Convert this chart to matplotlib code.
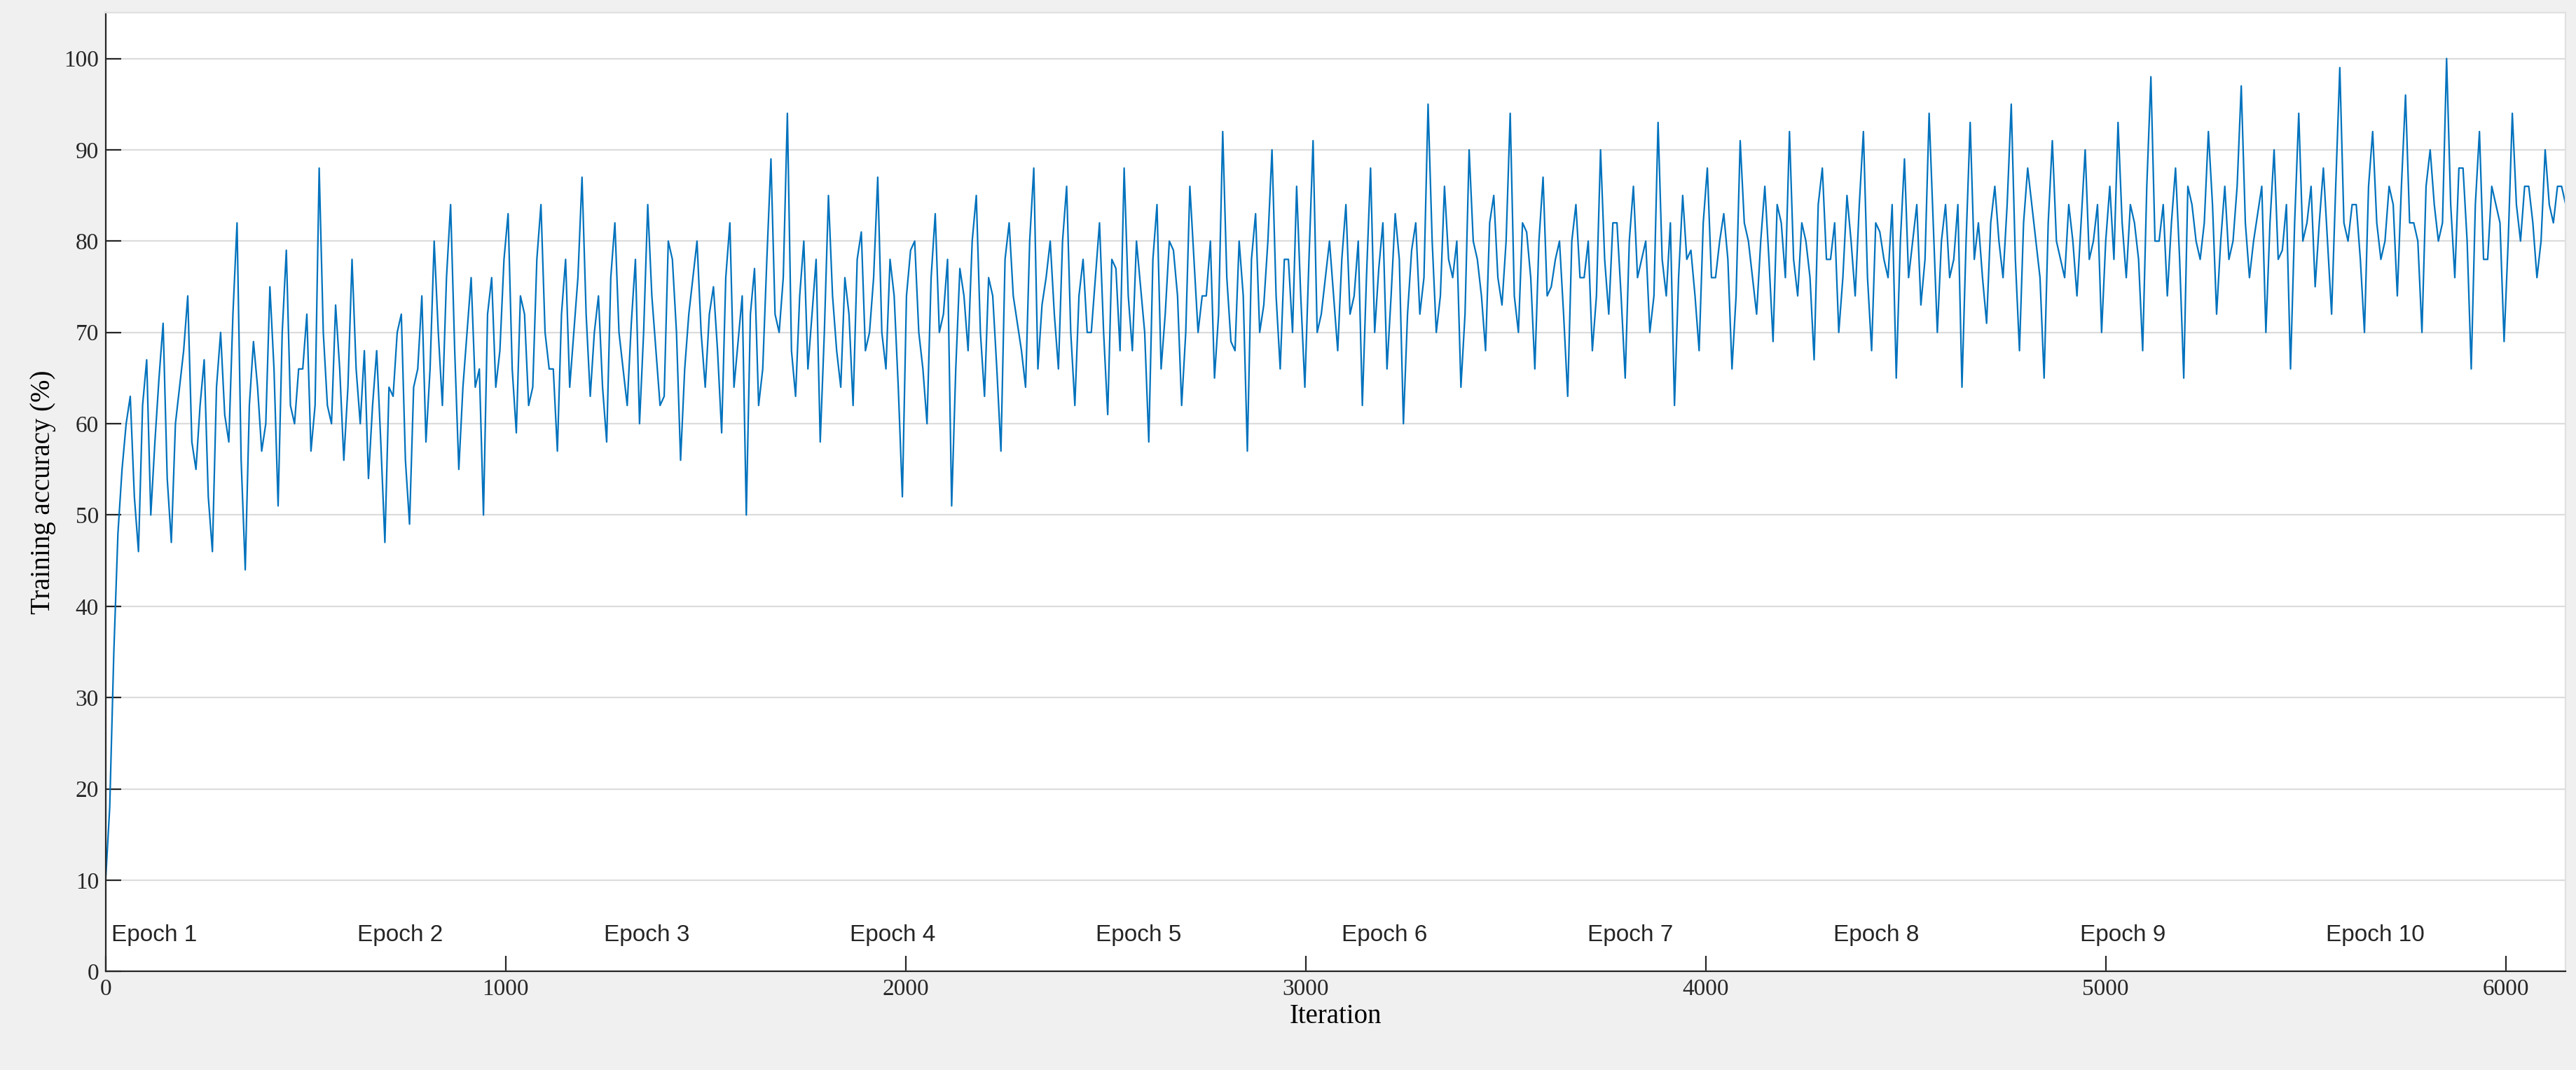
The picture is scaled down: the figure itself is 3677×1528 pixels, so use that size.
import numpy as np
import matplotlib
matplotlib.use("Agg")
from matplotlib import pyplot

# training accuracy (%); two interleaved passes of readings
acc_a = [
    10, 35, 55, 63, 46, 67, 58, 71, 47, 64, 74, 55, 67, 46, 70, 58, 82, 44, 69, 57, 75, 51, 79, 60, 66, 57, 88, 62, 73, 56,
    78, 60, 54, 68, 47, 63, 72, 49, 66, 58, 80, 62, 84, 55, 70, 64, 50, 76, 68, 83, 59, 72, 64, 84, 66, 57, 78, 70, 87, 63,
    74, 58, 82, 66, 71, 60, 84, 68, 63, 78, 56, 72, 80, 64, 75, 59, 82, 69, 50, 77, 66, 89, 70, 94, 63, 80, 72, 58, 85, 68,
    76, 62, 81, 70, 87, 66, 74, 52, 79, 70, 60, 83, 72, 51, 77, 68, 85, 63, 74, 57, 82, 71, 64, 88, 73, 80, 66, 86, 62, 78,
    70, 82, 61, 77, 88, 68, 75, 58, 84, 72, 79, 62, 86, 70, 74, 65, 92, 69, 80, 57, 83, 73, 90, 66, 78, 86, 64, 91, 72, 80,
    68, 84, 74, 62, 88, 77, 66, 83, 60, 79, 72, 95, 70, 86, 76, 64, 90, 78, 68, 85, 73, 94, 70, 81, 66, 87, 75, 80, 63, 84,
    76, 68, 90, 72, 82, 65, 86, 78, 70, 93, 74, 62, 85, 79, 68, 88, 76, 83, 66, 91, 80, 72, 86, 69, 82, 92, 74, 80, 67, 88,
    78, 70, 85, 74, 92, 68, 81, 76, 65, 89, 80, 73, 94, 70, 84, 78, 64, 93, 82, 71, 86, 76, 95, 68, 88, 80, 65, 91, 78, 84,
    74, 90, 80, 70, 86, 93, 76, 82, 68, 98, 80, 74, 88, 65, 84, 78, 92, 72, 86, 80, 97, 76, 83, 70, 90, 79, 66, 94, 82, 75,
    88, 72, 99, 80, 84, 70, 92, 78, 86, 74, 96, 82, 70, 90, 80, 100, 76, 88, 66, 92, 78, 84, 69, 94, 80, 86, 76, 90, 82, 86,
]
acc_b = [
    18, 48, 60, 52, 62, 50, 65, 54, 60, 68, 58, 62, 52, 64, 61, 72, 56, 62, 64, 60, 66, 70, 62, 66, 72, 62, 70, 60, 66, 64,
    66, 68, 62, 58, 64, 70, 56, 64, 74, 66, 70, 76, 68, 64, 76, 66, 72, 64, 78, 66, 74, 62, 78, 70, 66, 72, 64, 76, 72, 70,
    64, 76, 70, 62, 78, 70, 74, 62, 80, 70, 66, 76, 70, 72, 68, 76, 64, 74, 72, 62, 78, 72, 76, 68, 74, 66, 78, 70, 74, 64,
    72, 78, 68, 76, 70, 78, 64, 74, 80, 66, 76, 70, 78, 66, 74, 80, 70, 76, 66, 78, 74, 68, 80, 66, 76, 72, 80, 70, 74, 70,
    76, 70, 78, 68, 74, 80, 70, 78, 66, 80, 74, 70, 78, 74, 80, 72, 76, 68, 74, 78, 70, 80, 74, 78, 70, 74, 78, 70, 76, 74,
    78, 72, 80, 76, 70, 82, 74, 78, 72, 82, 76, 80, 74, 78, 80, 72, 80, 74, 82, 76, 80, 74, 82, 76, 80, 74, 78, 72, 80, 76,
    80, 74, 78, 82, 74, 80, 76, 80, 74, 78, 82, 76, 78, 74, 82, 76, 80, 78, 74, 82, 76, 80, 78, 84, 76, 78, 82, 76, 84, 78,
    82, 76, 80, 84, 76, 82, 78, 84, 80, 76, 84, 78, 82, 80, 76, 84, 80, 78, 76, 82, 80, 84, 78, 82, 84, 76, 82, 80, 76, 80,
    82, 78, 84, 80, 78, 82, 84, 78, 86, 80, 84, 82, 78, 86, 80, 82, 84, 80, 78, 86, 82, 80, 86, 82, 78, 84, 82, 80, 86, 82,
    80, 86, 82, 84, 78, 86, 82, 80, 84, 86, 82, 80, 86, 84, 82, 84, 88, 80, 84, 78, 86, 82, 80, 84, 86, 82, 80, 84, 86, 84,
]
max_iter = 6150
epoch_len = 615
epoch_labels = [f"Epoch {i}" for i in range(1, 11)]

acc = np.column_stack([acc_a, acc_b]).ravel()
iters = np.linspace(0, max_iter, len(acc))

fig = pyplot.figure(figsize=(18.385, 7.64), dpi=200, facecolor="#f0f0f0")
ax = fig.add_axes([0.041, 0.092, 0.955, 0.896])
ax.set_facecolor("white")

ax.plot(iters, acc, color="#0072BD", lw=0.8)

for i, lab in enumerate(epoch_labels):
    ax.text(i * epoch_len + 15, 4, lab, fontsize=12, family="Liberation Sans",
            color="#262626", va="center", ha="left")

ax.set_xlim(0, max_iter)
ax.set_ylim(0, 105)
ax.set_yticks(range(0, 101, 10))
ax.set_xticks(range(0, 6001, 1000))
ax.tick_params(direction="in", length=8, labelsize=12, colors="#262626")
for lab in ax.get_xticklabels() + ax.get_yticklabels():
    lab.set_family("Liberation Serif")
ax.grid(True, axis="y", color="#dcdcdc", lw=0.8)
ax.set_axisbelow(True)
for s in ["top", "right"]:
    ax.spines[s].set_color("#e0e0e0")
for s in ["left", "bottom"]:
    ax.spines[s].set_color("#262626")

ax.set_xlabel("Iteration", family="Liberation Serif", fontsize=14, labelpad=2)
ax.set_ylabel("Training accuracy (%)", family="Liberation Serif", fontsize=14, labelpad=4)

fig.savefig("out.png", dpi=200, facecolor=fig.get_facecolor())
